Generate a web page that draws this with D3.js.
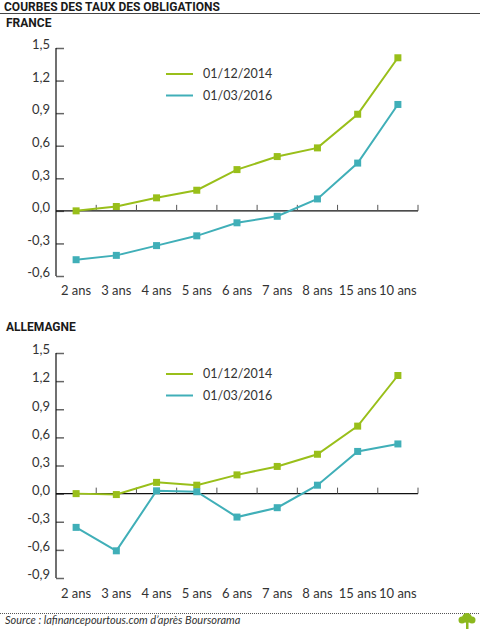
<!DOCTYPE html>
<html>
<head>
<meta charset="utf-8">
<script src="https://cdn.jsdelivr.net/npm/d3@7"></script>
<style>
  body { margin: 0; background: #fff; }
  svg text { font-family: "Lato", "DejaVu Sans", sans-serif; }
</style>
</head>
<body>
<div id="chart"></div>
<script>
(function () {

    var MATURITES = ["2 ans", "3 ans", "4 ans", "5 ans", "6 ans", "7 ans", "8 ans", "15 ans", "10 ans"];
    var DATES     = ["01/12/2014", "01/03/2016"];

    var FRANCE_2014 = [0.00, 0.04, 0.12, 0.19, 0.38, 0.50, 0.58, 0.89, 1.41];
    var FRANCE_2016 = [-0.45, -0.41, -0.32, -0.23, -0.11, -0.05, 0.11, 0.44, 0.98];
    var ALLEM_2014  = [0.00, -0.01, 0.12, 0.09, 0.20, 0.29, 0.42, 0.72, 1.26];
    var ALLEM_2016  = [-0.36, -0.61, 0.03, 0.02, -0.25, -0.15, 0.09, 0.45, 0.53];

    var TICKS_FR = [1.5, 1.2, 0.9, 0.6, 0.3, 0.0, -0.3, -0.6];
    var TICKS_DE = [1.5, 1.2, 0.9, 0.6, 0.3, 0.0, -0.3, -0.6, -0.9];

    var COLORS = ["#99bf1a", "#40afb8"];

    var W = 480, H = 630;
    var svg = d3.select("#chart").append("svg")
        .attr("width", W).attr("height", H);

    /* ── header ───────────────────────────────────────────────── */
    svg.append("text")
        .attr("x", 4).attr("y", 11)
        .style("font-family", "'Liberation Sans Narrow', 'Roboto', sans-serif")
        .style("font-weight", "bold")
        .style("font-size", "12px")
        .attr("fill", "#1a1a1a")
        .text("COURBES DES TAUX DES OBLIGATIONS");
    svg.append("line")
        .attr("x1", 0).attr("x2", W)
        .attr("y1", 13.5).attr("y2", 13.5)
        .attr("stroke", "#444").attr("stroke-width", 1.2);

    var fmt = function (v) { return d3.format(".1f")(v).replace(".", ",").replace("−", "-"); };

    function panel(opts) {
        var x = d3.scaleBand().domain(MATURITES).range([56, 418]);
        var y = d3.scaleLinear().domain(opts.domain).range(opts.range);
        var g = svg.append("g");

        g.append("text")
            .attr("x", 6).attr("y", opts.titleY)
            .style("font-family", "'Liberation Sans Narrow', 'Roboto', sans-serif")
            .style("font-weight", "bold")
            .style("font-size", "12px")
            .attr("fill", "#1a1a1a")
            .text(opts.title);

        // y axis: ticks inward, labels to the left
        var yAxis = g.append("g").attr("transform", "translate(56,0)")
            .call(d3.axisRight(y).tickValues(opts.ticks).tickSize(8).tickFormat(""));
        yAxis.select(".domain").remove();
        yAxis.selectAll(".tick line").attr("stroke", "#666").attr("stroke-width", 1.5);
        g.append("line")
            .attr("x1", 56).attr("x2", 56)
            .attr("y1", y(opts.domain[1])).attr("y2", y(opts.domain[0]))
            .attr("stroke", "#111").attr("stroke-width", 1.2);

        g.selectAll(".ylab").data(opts.ticks).enter().append("text")
            .attr("x", 50).attr("y", function (d) { return y(d); })
            .attr("dy", "0.1em")
            .attr("text-anchor", "end")
            .style("font-size", "13px")
            .attr("fill", "#333")
            .text(fmt);

        // x axis on zero line, ticks upward at band boundaries
        var y0 = y(0);
        g.append("line")
            .attr("x1", 56).attr("x2", 418)
            .attr("y1", y0).attr("y2", y0)
            .attr("stroke", "#111").attr("stroke-width", 1.2);
        g.selectAll(".xtick").data(MATURITES).enter().append("line")
            .attr("x1", function (d) { return x(d) + x.bandwidth(); })
            .attr("x2", function (d) { return x(d) + x.bandwidth(); })
            .attr("y1", y0).attr("y2", y0 - 6)
            .attr("stroke", "#555").attr("stroke-width", 1);

        g.selectAll(".xlab").data(MATURITES).enter().append("text")
            .attr("x", function (d) { return x(d) + x.bandwidth() / 2; })
            .attr("y", opts.labelY)
            .attr("text-anchor", "middle")
            .style("font-size", "13px")
            .attr("fill", "#333")
            .text(function (d) { return d; });

        // series
        var line = d3.line()
            .x(function (d, i) { return x(MATURITES[i]) + x.bandwidth() / 2; })
            .y(function (d) { return y(d); });

        opts.series.forEach(function (vals, s) {
            g.append("path")
                .attr("d", line(vals))
                .attr("fill", "none")
                .attr("stroke", COLORS[s])
                .attr("stroke-width", 2);
            g.selectAll(".pt" + s).data(vals).enter().append("rect")
                .attr("x", function (d, i) { return x(MATURITES[i]) + x.bandwidth() / 2 - 3.5; })
                .attr("y", function (d) { return y(d) - 3.5; })
                .attr("width", 7).attr("height", 7)
                .attr("fill", COLORS[s]);
        });

        // legend
        DATES.forEach(function (label, i) {
            var ly = opts.legendY + i * 21.5;
            g.append("line")
                .attr("x1", 166).attr("x2", 193)
                .attr("y1", ly).attr("y2", ly)
                .attr("stroke", COLORS[i]).attr("stroke-width", 2);
            g.append("text")
                .attr("x", 203).attr("y", ly)
                .attr("dy", "0.35em")
                .style("font-size", "12.5px")
                .attr("fill", "#333")
                .text(label);
        });
    }

    panel({
        title: "FRANCE", titleY: 27,
        domain: [-0.6, 1.5], range: [276, 48],
        ticks: TICKS_FR,
        labelY: 295,
        legendY: 74,
        series: [FRANCE_2014, FRANCE_2016]
    });

    panel({
        title: "ALLEMAGNE", titleY: 331,
        domain: [-0.9, 1.5], range: [578, 353],
        ticks: TICKS_DE,
        labelY: 598,
        legendY: 374,
        series: [ALLEM_2014, ALLEM_2016]
    });

    /* ── footer ───────────────────────────────────────────────── */
    svg.append("line")
        .attr("x1", 0).attr("x2", W)
        .attr("y1", 613.5).attr("y2", 613.5)
        .attr("stroke", "#555").attr("stroke-width", 1)
        .attr("stroke-dasharray", "1 1");
    svg.append("text")
        .attr("x", 5).attr("y", 624)
        .style("font-size", "11px")
        .style("font-style", "italic")
        .attr("fill", "#333")
        .text("Source : lafinancepourtous.com d\u2019apr\u00e8s Boursorama");

    // small tree logo
    var logo = svg.append("g").attr("transform", "translate(467,621)").attr("fill", "#8cb81e");
    logo.append("circle").attr("cx", 0).attr("cy", -3).attr("r", 5);
    logo.append("circle").attr("cx", -5).attr("cy", -1).attr("r", 3.5);
    logo.append("circle").attr("cx", 5).attr("cy", -1).attr("r", 3.5);
    logo.append("rect").attr("x", -1).attr("y", 0).attr("width", 2.5).attr("height", 8);

}());
</script>
</body>
</html>
